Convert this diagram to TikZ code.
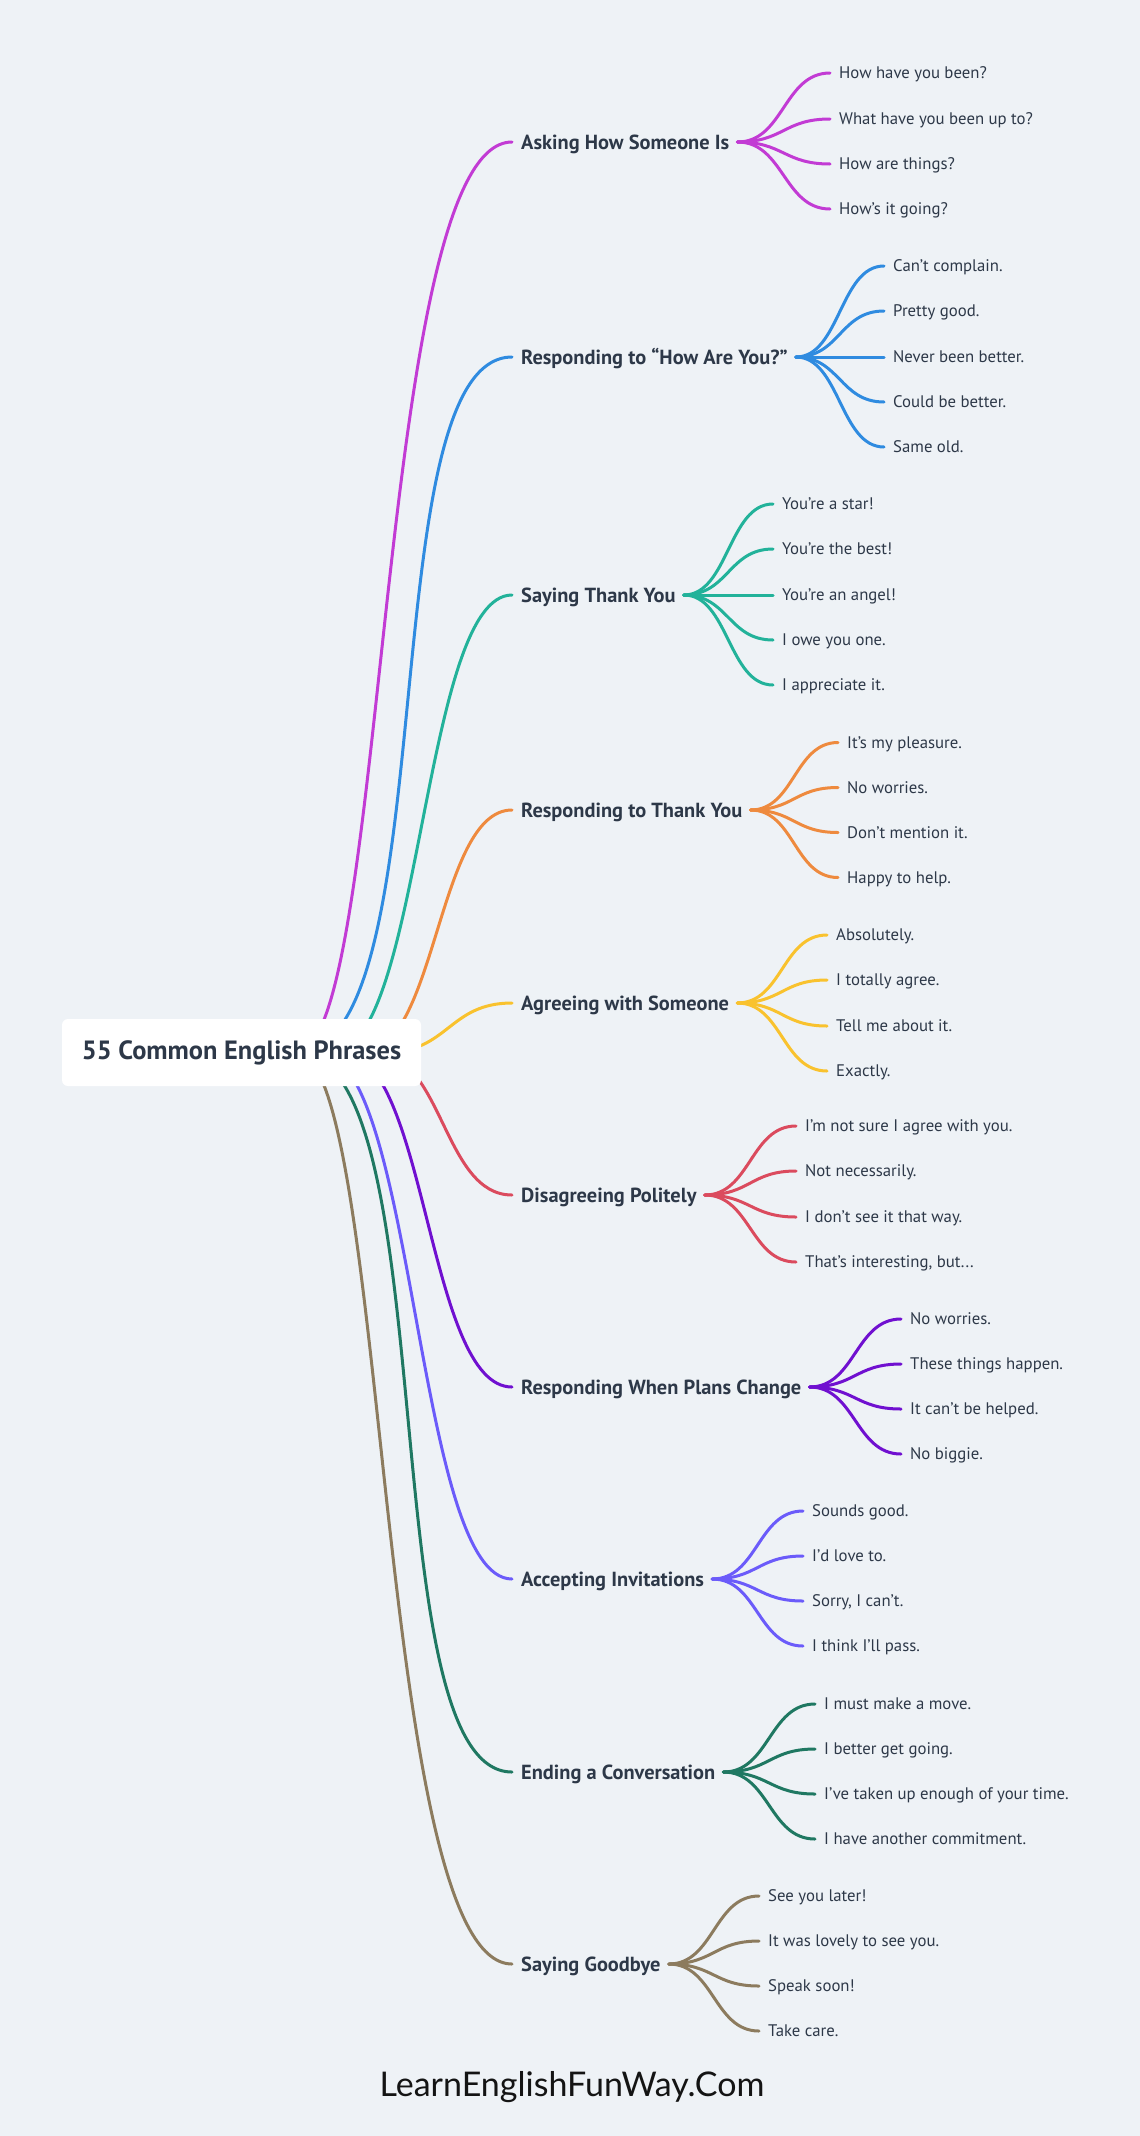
\documentclass[tikz,border=0pt]{standalone}
\usepackage{fontspec}
\setmainfont{PT Sans}
\newfontfamily\footfont{Lato}
\usetikzlibrary{calc}
\definecolor{bgc}{HTML}{EEF2F6}
\definecolor{txt}{HTML}{2D3848}
\definecolor{cA}{HTML}{C23BD4}
\definecolor{cB}{HTML}{2F8BE0}
\definecolor{cC}{HTML}{22B29A}
\definecolor{cD}{HTML}{EE8A3E}
\definecolor{cE}{HTML}{F9C22E}
\definecolor{cF}{HTML}{DB4B5E}
\definecolor{cG}{HTML}{7010D0}
\definecolor{cH}{HTML}{6B5BFA}
\definecolor{cI}{HTML}{1F7862}
\definecolor{cJ}{HTML}{8C7B5E}
\pgfdeclarelayer{background}
\pgfsetlayers{background,main}
\tikzset{
 rootbox/.style={fill=white, rounded corners=6pt, minimum width=359pt, minimum height=67pt, inner sep=0pt, font=\bfseries\fontsize{26.4}{30}\selectfont, text=txt},
 branchlbl/.style={anchor=west, inner sep=0pt, text height=14.2pt, text depth=0pt, font=\bfseries\fontsize{20.4}{24}\selectfont, text=txt},
 leaflbl/.style={anchor=west, inner sep=0pt, text height=11.7pt, text depth=0pt, font=\fontsize{16.75}{20}\selectfont, text=txt},
 link/.style={line width=3pt, line cap=round},
}
\newcommand\leaflink[3]{\draw[link,#1] let \p1=([xshift=8pt]#2.east), \p2=([xshift=-9pt]#3.west), \n1={0.5*(\x1+\x2)} in (\p1) .. controls (\n1,\y1) and (\n1,\y2) .. (\p2);}
\newcommand\rootlink[5]{\draw[link,#1] ([xshift=#3pt]root.center) .. controls +(#4,0) and +(-#5,0) .. ([xshift=-9pt]#2.west);}
\begin{document}
\begin{tikzpicture}[x=1pt,y=-1pt]
\useasboundingbox (0,0) rectangle (1140,2136);
\begin{pgfonlayer}{background}
\fill[bgc] (0,0) rectangle (1140,2136);
\end{pgfonlayer}
\node[rootbox] (root) at (241.5,1052.5) {55 Common English Phrases};
% branches
\node[branchlbl] (b1) at (521,142) {Asking How Someone Is};
\node[branchlbl] (b2) at (521,357) {Responding to “How Are You?”};
\node[branchlbl] (b3) at (521,595) {Saying Thank You};
\node[branchlbl] (b4) at (521,810) {Responding to Thank You};
\node[branchlbl] (b5) at (521,1003) {Agreeing with Someone};
\node[branchlbl] (b6) at (521,1195) {Disagreeing Politely};
\node[branchlbl] (b7) at (521,1387) {Responding When Plans Change};
\node[branchlbl] (b8) at (521,1579) {Accepting Invitations};
\node[branchlbl] (b9) at (521,1772) {Ending a Conversation};
\node[branchlbl] (b10) at (521,1964) {Saying Goodbye};
% leaves
\node[leaflbl] (l1a) at (839,73) {How have you been?};
\node[leaflbl] (l1b) at (839,119) {What have you been up to?};
\node[leaflbl] (l1c) at (839,164) {How are things?};
\node[leaflbl] (l1d) at (839,209) {How’s it going?};
\node[leaflbl] (l2a) at (893,266) {Can’t complain.};
\node[leaflbl] (l2b) at (893,311) {Pretty good.};
\node[leaflbl] (l2c) at (893,357) {Never been better.};
\node[leaflbl] (l2d) at (893,402) {Could be better.};
\node[leaflbl] (l2e) at (893,447) {Same old.};
\node[leaflbl] (l3a) at (782,504) {You’re a star!};
\node[leaflbl] (l3b) at (782,549) {You’re the best!};
\node[leaflbl] (l3c) at (782,595) {You’re an angel!};
\node[leaflbl] (l3d) at (782,640) {I owe you one.};
\node[leaflbl] (l3e) at (782,685) {I appreciate it.};
\node[leaflbl] (l4a) at (847,742.5) {It’s my pleasure.};
\node[leaflbl] (l4b) at (847,787.5) {No worries.};
\node[leaflbl] (l4c) at (847,832.5) {Don’t mention it.};
\node[leaflbl] (l4d) at (847,877.5) {Happy to help.};
\node[leaflbl] (l5a) at (836,935) {Absolutely.};
\node[leaflbl] (l5b) at (836,980) {I totally agree.};
\node[leaflbl] (l5c) at (836,1026) {Tell me about it.};
\node[leaflbl] (l5d) at (836,1071) {Exactly.};
\node[leaflbl] (l6a) at (805,1126) {I’m not sure I agree with you.};
\node[leaflbl] (l6b) at (805,1171) {Not necessarily.};
\node[leaflbl] (l6c) at (805,1217) {I don’t see it that way.};
\node[leaflbl] (l6d) at (805,1262) {That’s interesting, but...};
\node[leaflbl] (l7a) at (910,1319) {No worries.};
\node[leaflbl] (l7b) at (910,1364) {These things happen.};
\node[leaflbl] (l7c) at (910,1409) {It can’t be helped.};
\node[leaflbl] (l7d) at (910,1454) {No biggie.};
\node[leaflbl] (l8a) at (812,1511) {Sounds good.};
\node[leaflbl] (l8b) at (812,1556) {I’d love to.};
\node[leaflbl] (l8c) at (812,1601) {Sorry, I can’t.};
\node[leaflbl] (l8d) at (812,1646) {I think I’ll pass.};
\node[leaflbl] (l9a) at (824,1704) {I must make a move.};
\node[leaflbl] (l9b) at (824,1749) {I better get going.};
\node[leaflbl] (l9c) at (824,1794) {I’ve taken up enough of your time.};
\node[leaflbl] (l9d) at (824,1839) {I have another commitment.};
\node[leaflbl] (l10a) at (768,1896) {See you later!};
\node[leaflbl] (l10b) at (768,1941) {It was lovely to see you.};
\node[leaflbl] (l10c) at (768,1986) {Speak soon!};
\node[leaflbl] (l10d) at (768,2031) {Take care.};
% footer
\node[font=\footfont\fontsize{34}{40}\selectfont, text=black!92, inner sep=0pt] (foot) at (572,2087) {LearnEnglishFunWay.Com};
% connectors
\begin{pgfonlayer}{background}
\rootlink{cA}{b1}{54.5}{93}{137}
\rootlink{cB}{b2}{54.5}{152}{143}
\rootlink{cC}{b3}{90.5}{90}{90}
\rootlink{cD}{b4}{120.5}{75}{75}
\rootlink{cE}{b5}{143.5}{63.5}{63.5}
\rootlink{cF}{b6}{132.5}{69}{69}
\rootlink{cG}{b7}{100.5}{85}{85}
\rootlink{cH}{b8}{77.5}{96.5}{96.5}
\rootlink{cI}{b9}{54.5}{152}{143}
\rootlink{cJ}{b10}{54.5}{93}{137}
\leaflink{cA}{b1}{l1a}\leaflink{cA}{b1}{l1b}\leaflink{cA}{b1}{l1c}\leaflink{cA}{b1}{l1d}
\leaflink{cB}{b2}{l2a}\leaflink{cB}{b2}{l2b}\leaflink{cB}{b2}{l2c}\leaflink{cB}{b2}{l2d}\leaflink{cB}{b2}{l2e}
\leaflink{cC}{b3}{l3a}\leaflink{cC}{b3}{l3b}\leaflink{cC}{b3}{l3c}\leaflink{cC}{b3}{l3d}\leaflink{cC}{b3}{l3e}
\leaflink{cD}{b4}{l4a}\leaflink{cD}{b4}{l4b}\leaflink{cD}{b4}{l4c}\leaflink{cD}{b4}{l4d}
\leaflink{cE}{b5}{l5a}\leaflink{cE}{b5}{l5b}\leaflink{cE}{b5}{l5c}\leaflink{cE}{b5}{l5d}
\leaflink{cF}{b6}{l6a}\leaflink{cF}{b6}{l6b}\leaflink{cF}{b6}{l6c}\leaflink{cF}{b6}{l6d}
\leaflink{cG}{b7}{l7a}\leaflink{cG}{b7}{l7b}\leaflink{cG}{b7}{l7c}\leaflink{cG}{b7}{l7d}
\leaflink{cH}{b8}{l8a}\leaflink{cH}{b8}{l8b}\leaflink{cH}{b8}{l8c}\leaflink{cH}{b8}{l8d}
\leaflink{cI}{b9}{l9a}\leaflink{cI}{b9}{l9b}\leaflink{cI}{b9}{l9c}\leaflink{cI}{b9}{l9d}
\leaflink{cJ}{b10}{l10a}\leaflink{cJ}{b10}{l10b}\leaflink{cJ}{b10}{l10c}\leaflink{cJ}{b10}{l10d}
\end{pgfonlayer}
\end{tikzpicture}
\end{document}
